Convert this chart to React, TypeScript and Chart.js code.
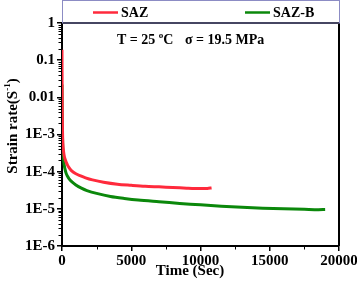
import React, { useEffect, useRef } from "react";
import { Chart, registerables } from "chart.js";

Chart.register(...registerables);

const sazTime = [0, 5, 10, 20, 30, 45, 60, 80, 100, 150, 200, 300, 400, 500, 700, 1000, 1300, 1700, 2200, 3000, 4000, 5000, 6000, 7000, 8000, 9000, 10000, 10500, 10800];
const sazRate = [0.19, 0.05, 0.015, 4e-3, 1.8e-3, 9e-4, 6e-4, 4.5e-4, 3.8e-4, 2.8e-4, 2.3e-4, 1.8e-4, 1.5e-4, 1.3e-4, 1.05e-4, 8.8e-5, 7.8e-5, 6.8e-5, 6e-5, 5.2e-5, 4.6e-5, 4.3e-5, 4.05e-5, 3.9e-5, 3.75e-5, 3.6e-5, 3.5e-5, 3.55e-5, 3.65e-5];

const sazbTime = [0, 5, 10, 20, 30, 45, 60, 80, 100, 150, 200, 300, 400, 500, 700, 1000, 1400, 1800, 2500, 3500, 4500, 5500, 7000, 8500, 10000, 11500, 13000, 14500, 16000, 17500, 18500, 19000];
const sazbRate = [0.022, 0.01, 5e-3, 2e-3, 1.1e-3, 6e-4, 4e-4, 3e-4, 2.4e-4, 1.6e-4, 1.25e-4, 9e-5, 7.5e-5, 6.5e-5, 5.4e-5, 4.4e-5, 3.6e-5, 3.1e-5, 2.6e-5, 2.15e-5, 1.9e-5, 1.72e-5, 1.55e-5, 1.4e-5, 1.28e-5, 1.18e-5, 1.1e-5, 1.04e-5, 1.0e-5, 9.7e-6, 9.5e-6, 9.6e-6];

const seriesLabels = ["SAZ", "SAZ-B"];
const seriesColors = ["#ff2a3c", "#0b880b"];
const xTickStep = 5000;
const xMax = 20000;
const yMin = 1e-6;
const yMax = 1;
const xTitle = "Time (Sec)";
const yTitleMain = "Strain rate(S";
const yTitleSup = "-1";
const yTitleEnd = ")";

const FONT = "'Liberation Serif', 'Times New Roman', serif";

function fmtY(v: number): string {
  const e = Math.round(Math.log10(v));
  if (e >= -2) return String(Number(v.toPrecision(1)));
  return "1E" + e;
}

const decorPlugin = {
  id: "decor",
  afterDraw(chart: any) {
    const ctx = chart.ctx as CanvasRenderingContext2D;
    const { left, right, top, bottom } = chart.chartArea;
    const xs = chart.scales.x;
    const ys = chart.scales.y;
    ctx.save();
    // frame top/right
    ctx.strokeStyle = "#000";
    ctx.lineWidth = 2;
    ctx.beginPath();
    ctx.moveTo(left, top);
    ctx.lineTo(right, top);
    ctx.lineTo(right, bottom);
    ctx.stroke();
    // minor ticks
    ctx.lineWidth = 1;
    ctx.beginPath();
    for (let e = -6; e < 0; e++) {
      for (let m = 2; m <= 9; m++) {
        const py = Math.round(ys.getPixelForValue(m * Math.pow(10, e))) + 0.5;
        ctx.moveTo(left - 3.5, py);
        ctx.lineTo(left, py);
      }
    }
    for (let v = xTickStep / 2; v < xMax; v += xTickStep) {
      const px = Math.round(xs.getPixelForValue(v)) + 0.5;
      ctx.moveTo(px, bottom);
      ctx.lineTo(px, bottom + 3.5);
    }
    ctx.stroke();
    // legend box
    ctx.strokeStyle = "#8c8cc4";
    ctx.lineWidth = 1;
    ctx.strokeRect(left + 0.5, 0.5, right - left, top - 0.5);
    ctx.font = "bold 14px " + FONT;
    ctx.textBaseline = "middle";
    ctx.textAlign = "left";
    const legendX = [93, 245];
    chart.data.datasets.forEach((ds: any, i: number) => {
      const lx = legendX[i];
      ctx.strokeStyle = ds.borderColor;
      ctx.lineWidth = 2.5;
      ctx.beginPath();
      ctx.moveTo(lx, 12.5);
      ctx.lineTo(lx + 25, 12.5);
      ctx.stroke();
      ctx.fillStyle = "#000";
      ctx.fillText(ds.label, lx + 28, 13);
    });
    // annotation
    ctx.fillStyle = "#000";
    ctx.font = "bold 14px " + FONT;
    let ax = 117;
    const ay = 40.5;
    const t1 = "T = 25 ";
    ctx.fillText(t1, ax, ay);
    ax += ctx.measureText(t1).width;
    ctx.font = "bold 9px " + FONT;
    ctx.fillText("o", ax, ay - 5);
    ax += ctx.measureText("o").width;
    ctx.font = "bold 14px " + FONT;
    ctx.fillText("C", ax, ay);
    ctx.fillText("\u03c3 = 19.5 MPa", 185, ay);
    // x title
    ctx.font = "bold 15px " + FONT;
    ctx.textAlign = "center";
    ctx.fillText(xTitle, 190, 271);
    // y title
    ctx.translate(13, 126);
    ctx.rotate(-Math.PI / 2);
    ctx.font = "bold 15px " + FONT;
    const w1 = ctx.measureText(yTitleMain).width;
    ctx.font = "bold 9px " + FONT;
    const w2 = ctx.measureText(yTitleSup).width;
    ctx.font = "bold 15px " + FONT;
    const w3 = ctx.measureText(yTitleEnd).width;
    let tx = -(w1 + w2 + w3) / 2;
    ctx.textAlign = "left";
    ctx.fillText(yTitleMain, tx, 0);
    tx += w1;
    ctx.font = "bold 9px " + FONT;
    ctx.fillText(yTitleSup, tx, -5);
    tx += w2;
    ctx.font = "bold 15px " + FONT;
    ctx.fillText(yTitleEnd, tx, 0);
    ctx.restore();
  },
};

export default function App() {
  const ref = useRef<HTMLCanvasElement | null>(null);
  useEffect(() => {
    if (!ref.current) return;
    const chart = new Chart(ref.current, {
      type: "line",
      data: {
        datasets: [
          {
            label: seriesLabels[0],
            data: sazTime.map((t, i) => ({ x: t, y: sazRate[i] })),
            borderColor: seriesColors[0],
            borderWidth: 3,
            pointRadius: 0,
            tension: 0.3,
            fill: false,
          },
          {
            label: seriesLabels[1],
            data: sazbTime.map((t, i) => ({ x: t, y: sazbRate[i] })),
            borderColor: seriesColors[1],
            borderWidth: 3,
            pointRadius: 0,
            tension: 0.3,
            fill: false,
          },
        ],
      },
      options: {
        responsive: false,
        animation: false,
        layout: { padding: { left: 0, right: 18, top: 23, bottom: 0 } },
        plugins: {
          legend: { display: false },
          title: { display: false },
          tooltip: { enabled: false },
        },
        scales: {
          x: {
            type: "linear",
            min: 0,
            max: xMax,
            border: { color: "#000", width: 2 },
            grid: { drawOnChartArea: false, drawTicks: true, tickLength: 5, color: "#000", lineWidth: 1.5 },
            ticks: {
              stepSize: xTickStep,
              color: "#000",
              padding: 1,
              maxRotation: 0,
              font: { family: FONT, size: 15, weight: "bold" },
              callback: (v: any) => String(v),
            },
            afterFit: (s: any) => {
              s.height = 38;
              s.paddingLeft = 0;
              s.paddingRight = 0;
            },
          },
          y: {
            type: "logarithmic",
            min: yMin,
            max: yMax,
            border: { color: "#000", width: 2 },
            grid: { drawOnChartArea: false, drawTicks: true, tickLength: 5, color: "#000", lineWidth: 1.5 },
            afterBuildTicks: (s: any) => {
              s.ticks = s.ticks.filter((t: any) => {
                const l = Math.log10(t.value);
                return Math.abs(l - Math.round(l)) < 1e-6;
              });
            },
            ticks: {
              autoSkip: false,
              color: "#000",
              padding: 2,
              font: { family: FONT, size: 15, weight: "bold" },
              callback: (v: any) => fmtY(Number(v)),
            },
            afterFit: (s: any) => {
              s.width = 62;
              s.paddingTop = 0;
              s.paddingBottom = 0;
            },
          },
        },
      },
      plugins: [decorPlugin],
    } as any);
    return () => chart.destroy();
  }, []);
  return (
    <div style={{ position: "fixed", left: 0, top: 0, width: 357, height: 284, background: "#fff" }}>
      <canvas ref={ref} width={357} height={284} />
    </div>
  );
}
